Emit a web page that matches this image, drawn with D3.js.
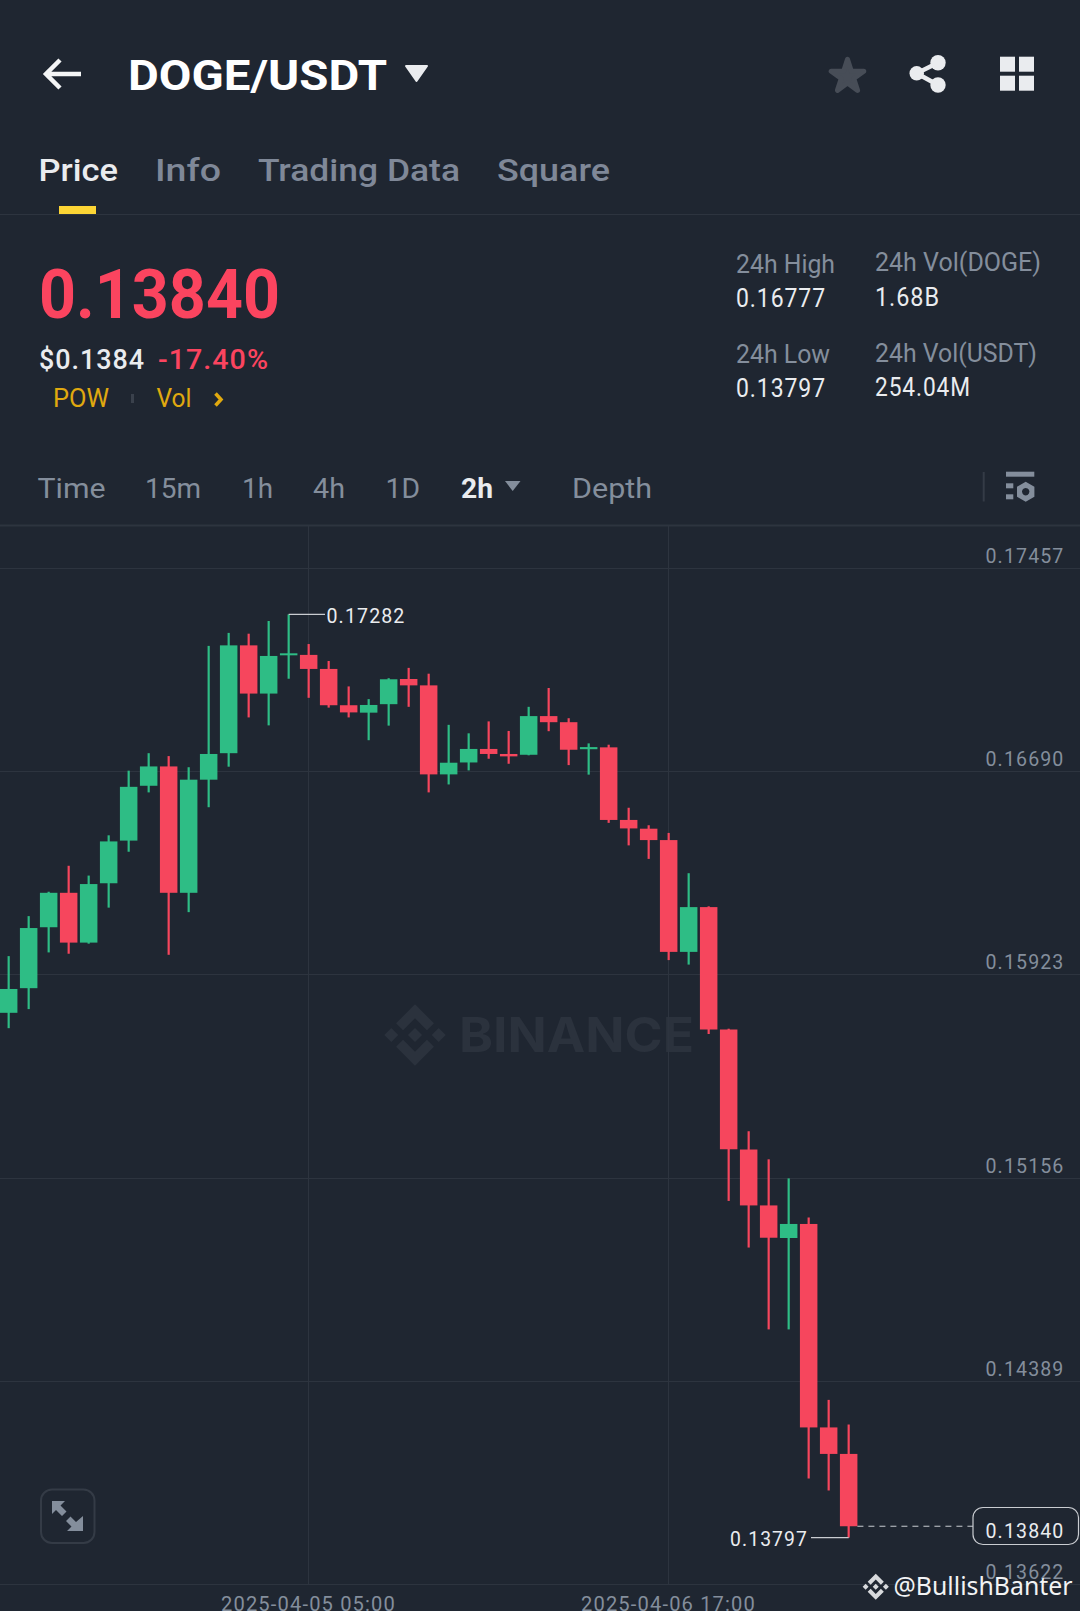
<!DOCTYPE html>
<html>
<head>
<meta charset="utf-8">
<script src="https://cdn.jsdelivr.net/npm/d3@7"></script>
<style>
  html, body { margin: 0; padding: 0; background: #1f2631; overflow: hidden; }
  svg { display: block; }
</style>
</head>
<body>
<div id="chart"></div>
<script>
// 2h candles
const opens = [0.15778, 0.15871, 0.16101, 0.16231, 0.16043, 0.16267, 0.16428, 0.16635, 0.16708, 0.16231,
  0.16658, 0.16758, 0.17165, 0.16983, 0.17130, 0.17129, 0.17076, 0.16939, 0.16911, 0.16943,
  0.17038, 0.17014, 0.16678, 0.16723, 0.16774, 0.16755, 0.16752, 0.16898, 0.16875, 0.16773,
  0.16780, 0.16506, 0.16473, 0.16430, 0.16008, 0.16177, 0.15715, 0.15262, 0.15051, 0.14928,
  0.14981, 0.14213, 0.14113];
const highs = [0.15992, 0.16143, 0.16235, 0.16333, 0.16296, 0.16448, 0.16692, 0.16758, 0.16747, 0.16705,
  0.17163, 0.17212, 0.17209, 0.17257, 0.17282, 0.17170, 0.17106, 0.17010, 0.16962, 0.17041,
  0.17080, 0.17058, 0.16865, 0.16833, 0.16878, 0.16842, 0.16933, 0.17004, 0.16890, 0.16795,
  0.16790, 0.16552, 0.16486, 0.16457, 0.16305, 0.16180, 0.15718, 0.15331, 0.15225, 0.15153,
  0.15005, 0.14317, 0.14224];
const lows = [0.15720, 0.15792, 0.16006, 0.16001, 0.16039, 0.16175, 0.16386, 0.16610, 0.15997, 0.16158,
  0.16554, 0.16707, 0.16893, 0.16863, 0.17039, 0.16967, 0.16930, 0.16893, 0.16807, 0.16862,
  0.16933, 0.16610, 0.16640, 0.16693, 0.16737, 0.16718, 0.16750, 0.16841, 0.16713, 0.16677,
  0.16495, 0.16410, 0.16359, 0.15977, 0.15960, 0.15698, 0.15068, 0.14892, 0.14583, 0.14583,
  0.14020, 0.13975, 0.13797];
const closes = [0.15868, 0.16098, 0.16231, 0.16043, 0.16264, 0.16425, 0.16631, 0.16708, 0.16231, 0.16658,
  0.16755, 0.17165, 0.16983, 0.17125, 0.17135, 0.17076, 0.16939, 0.16912, 0.16940, 0.17037,
  0.17014, 0.16678, 0.16722, 0.16774, 0.16755, 0.16746, 0.16898, 0.16875, 0.16771, 0.16781,
  0.16506, 0.16474, 0.16430, 0.16008, 0.16177, 0.15715, 0.15263, 0.15051, 0.14929, 0.14981,
  0.14213, 0.14113, 0.13840];

const priceTicks = [0.17457, 0.16690, 0.15923, 0.15156, 0.14389, 0.13622];
const timeTickIndex = [15, 33];
const timeTickLabels = ["2025-04-05 05:00", "2025-04-06 17:00"];
const tabs = ["Price", "Info", "Trading Data", "Square"];
const intervals = ["Time", "15m", "1h", "4h", "1D", "2h", "Depth"];

const lastPrice = 0.13840;
const highLabel = 0.17282;
const lowLabel = 0.13797;

const bg = "#1f2631";
const up = "#2ebd85";
const down = "#f6465d";
const muted = "#848e9c";
const gridColor = "#2d343f";
const light = "#eaecef";
const font = "Roboto, 'Noto Sans', sans-serif";

const width = 1080, height = 1611;

const svg = d3.select("#chart").append("svg")
  .attr("width", width)
  .attr("height", height)
  .style("background", bg)
  .style("font-family", font);

const x = d3.scaleLinear().domain([0, 42]).range([8.67, 848.67]);
const y = d3.scaleLinear().domain([0.13622, 0.17457]).range([1584, 568]);

function label(px, py, str, size, fill, weight, w, spacing) {
  const t = svg.append("text")
    .attr("x", px).attr("y", py)
    .attr("font-size", size)
    .attr("fill", fill)
    .attr("font-weight", weight || 400)
    .text(str);
  if (spacing) t.style("letter-spacing", spacing + "px");
  if (w) t.attr("textLength", w).attr("lengthAdjust", "spacingAndGlyphs");
  return t;
}

// binance mark, drawn in a 126 unit box
const logoPath = "M38.73 53.2L63 28.93 87.28 53.21 101.4 39.09 63 .69 24.61 39.08Z" +
  "M.73 63L14.85 48.88 28.97 63 14.85 77.12Z" +
  "M38.73 72.8L63 97.07 87.28 72.79 101.4 86.9 63 125.3 24.61 86.92Z" +
  "M97.03 63L111.15 48.88 125.27 63 111.15 77.12Z" +
  "M77.32 62.99L63 48.67 48.68 62.99 63 77.33Z";
function logo(px, py, size, fill) {
  svg.append("path")
    .attr("d", logoPath)
    .attr("fill", fill)
    .attr("transform", `translate(${px},${py}) scale(${size / 126})`);
}

// --- header ---
svg.append("path")
  .attr("d", "M81 74H47M60 60L46 74L60 88")
  .attr("fill", "none").attr("stroke", "#f4f5f6").attr("stroke-width", 4.5);
label(128, 90, "DOGE/USDT", 42, "#fff", 700, 259);
svg.append("path").attr("d", "M406 66H427L416.5 81Z").attr("fill", light)
  .attr("stroke", light).attr("stroke-linejoin", "round").attr("stroke-width", 2);

svg.append("path")
  .attr("d", d3.symbol(d3.symbolStar, 330))
  .attr("transform", "translate(847.5,76.5)")
  .attr("fill", "#474d57").attr("stroke", "#474d57")
  .attr("stroke-width", 5).attr("stroke-linejoin", "round");

const share = svg.append("g").attr("fill", light);
share.append("path").attr("d", "M938 62.7L916.7 73.3L938 85")
  .attr("fill", "none").attr("stroke", light).attr("stroke-width", 4.5);
[[938, 62.7, 7.7], [916.7, 73.3, 7.2], [938, 85, 7.7]].forEach(p => {
  share.append("circle").attr("cx", p[0]).attr("cy", p[1]).attr("r", p[2]);
});

[[1000, 56.7], [1019, 56.7], [1000, 75.7], [1019, 75.7]].forEach(p => {
  svg.append("rect").attr("x", p[0]).attr("y", p[1]).attr("width", 15).attr("height", 15).attr("fill", light);
});

const tabX = [38.5, 155, 258, 497];
const tabW = [79.5, 66, 202, 113];
tabs.forEach((d, i) => {
  label(tabX[i], 180.5, d, 32, i === 0 ? light : "#7f8898", 500, tabW[i]);
});
svg.append("rect").attr("x", 59).attr("y", 206).attr("width", 37).attr("height", 8).attr("fill", "#fcd535");
svg.append("rect").attr("x", 0).attr("y", 214).attr("width", width).attr("height", 1).attr("fill", gridColor);

// --- price block ---
label(39, 318, "0.13840", 69, "#fb445f", 700, 241);
label(39, 369, "$0.1384", 28.5, light, 500, 106, 1);
label(158, 369, "-17.40%", 28.5, "#fb445f", 500, 111, 1);
label(53, 407.3, "POW", 25, "#e0a90f", 400, 56);
svg.append("rect").attr("x", 131).attr("y", 394).attr("width", 3).attr("height", 9).attr("fill", "#3a414c");
label(156.5, 407.3, "Vol", 25, "#e0a90f", 400, 35);
svg.append("path").attr("d", "M215.5 393.5L221 399.5L215.5 405.5")
  .attr("fill", "none").attr("stroke", "#e0a90f").attr("stroke-width", 3.5);

label(736, 273, "24h High", 25, muted, 400, 99);
label(736, 307, "0.16777", 25, light, 400, 90, 1);
label(875, 271, "24h Vol(DOGE)", 25, muted, 400, 166);
label(875, 306, "1.68B", 25, light, 400, 65, 1);
label(736, 363, "24h Low", 25, muted, 400, 94);
label(736, 397, "0.13797", 25, light, 400, 90, 1);
label(875, 362, "24h Vol(USDT)", 25, muted, 400, 162);
label(875, 396, "254.04M", 25, light, 400, 96, 1);

// --- interval row ---
const intervalX = [37.5, 145, 242, 313, 385.5, 461, 572];
const intervalW = [68, 56, 31, 32, 34.5, 32, 80];
intervals.forEach((d, i) => {
  label(intervalX[i], 498, d, 28, d === "2h" ? light : muted, d === "2h" ? 700 : 400, intervalW[i]);
});
svg.append("path").attr("d", "M505 481H520.5L512.7 491Z").attr("fill", muted);
svg.append("rect").attr("x", 982.7).attr("y", 472).attr("width", 2).attr("height", 29.5).attr("fill", "#343b46");
svg.append("rect").attr("x", 1006).attr("y", 471.7).attr("width", 28.3).attr("height", 5).attr("fill", muted);
svg.append("rect").attr("x", 1006).attr("y", 483.3).attr("width", 7.3).attr("height", 5).attr("fill", muted);
svg.append("rect").attr("x", 1006).attr("y", 494.3).attr("width", 7.3).attr("height", 5).attr("fill", muted);
// nut shaped settings glyph
svg.append("path")
  .attr("d", "M1025.7 481.7L1034.4 486.7V496.7L1025.7 501.7L1017 496.7V486.7Z" +
    "M1025.7 488a3.7 3.7 0 1 0 .01 0Z")
  .attr("fill", muted).attr("fill-rule", "evenodd");
svg.append("rect").attr("x", 0).attr("y", 524.5).attr("width", width).attr("height", 2).attr("fill", gridColor);

// --- watermark under the grid ---
logo(384, 1004, 62, "#2b323d");
label(459, 1052, "BINANCE", 48, "#2b323d", 700, 235)
  .style("font-family", "Inter, Roboto, sans-serif");

// --- axes ---
const yAxis = d3.axisLeft(y)
  .tickValues(priceTicks)
  .tickSize(width)
  .tickFormat(d3.format(".5f"));
const gy = svg.append("g").attr("transform", `translate(${width},0)`).call(yAxis);
gy.select(".domain").remove();
gy.selectAll("line").attr("stroke", gridColor).attr("shape-rendering", "crispEdges");
gy.selectAll("text")
  .attr("x", -94.5).attr("y", -5.5).attr("dy", 0)
  .attr("text-anchor", "start")
  .attr("fill", muted)
  .attr("font-size", 21)
  .attr("font-family", font)
  .style("letter-spacing", "1.2px")
  .attr("textLength", 79).attr("lengthAdjust", "spacingAndGlyphs");

const xAxis = d3.axisBottom(x)
  .tickValues(timeTickIndex)
  .tickSize(-(1584 - 525))
  .tickFormat((d, i) => timeTickLabels[i]);
const gx = svg.append("g").attr("transform", "translate(-0.67,1584)").call(xAxis);
gx.select(".domain").remove();
gx.selectAll("line").attr("stroke", gridColor).attr("shape-rendering", "crispEdges");
gx.selectAll("text")
  .attr("y", 27).attr("dy", 0)
  .attr("fill", muted)
  .attr("font-size", 21)
  .attr("font-family", font)
  .style("letter-spacing", "1.2px")
  .attr("textLength", 175).attr("lengthAdjust", "spacingAndGlyphs");

// --- candles ---
const candles = opens.map((o, i) => ({ i, o, h: highs[i], l: lows[i], c: closes[i] }));
const bodyW = 17.5;

const cg = svg.append("g").selectAll("g")
  .data(candles)
  .join("g")
  .attr("fill", d => d.c >= d.o ? up : down)
  .attr("stroke", d => d.c >= d.o ? up : down);

cg.append("line")
  .attr("x1", d => x(d.i)).attr("x2", d => x(d.i))
  .attr("y1", d => y(d.h)).attr("y2", d => y(d.l))
  .attr("stroke-width", 2.2);

cg.append("rect")
  .attr("x", d => x(d.i) - bodyW / 2)
  .attr("width", bodyW)
  .attr("y", d => y(Math.max(d.o, d.c)))
  .attr("height", d => Math.max(2, Math.abs(y(d.o) - y(d.c))))
  .attr("stroke", "none");

// --- high / low / last price markers ---
svg.append("path")
  .attr("d", `M${x(14)} ${y(highLabel)}H325`)
  .attr("fill", "none").attr("stroke", "#c9ccd1").attr("stroke-width", 1.2);
label(326.5, 622.5, d3.format(".5f")(highLabel), 21, light, 400, 79, 1.2);

svg.append("path")
  .attr("d", `M811 ${y(lowLabel)}H${x(42)}`)
  .attr("fill", "none").attr("stroke", "#c9ccd1").attr("stroke-width", 1.2);
label(730, 1545.5, d3.format(".5f")(lowLabel), 21, light, 400, 78, 1.2);

svg.append("line")
  .attr("x1", x(42) + bodyW / 2).attr("x2", 973)
  .attr("y1", y(lastPrice)).attr("y2", y(lastPrice))
  .attr("stroke", "#c9ccd1").attr("stroke-width", 1)
  .attr("stroke-dasharray", "6 5");
svg.append("rect")
  .attr("x", 973).attr("y", 1507.5).attr("width", 105.5).attr("height", 37).attr("rx", 10)
  .attr("fill", bg).attr("stroke", "#c9ccd1").attr("stroke-width", 1.2);
label(985.5, 1537.5, d3.format(".5f")(lastPrice), 21, light, 400, 79, 1.2);

// --- expand button ---
svg.append("rect")
  .attr("x", 41).attr("y", 1489.5).attr("width", 53.5).attr("height", 53.5).attr("rx", 11)
  .attr("fill", "none").attr("stroke", "#343b46").attr("stroke-width", 2);
svg.append("path")
  .attr("d", "M52 1501H65L60.5 1505.5L66.5 1511.5L62 1516L56 1510L52 1514Z" +
    "M83 1531H67L71.5 1526.5L66 1521L70.5 1516.5L76 1522L83 1516Z")
  .attr("fill", muted);

// --- repost signature ---
logo(862.5, 1573.5, 26.5, "#d8dadd");
label(893.5, 1595, "@BullishBanter", 26, "#f2f3f4", 400, 179)
  .style("font-family", "'Noto Sans', sans-serif");
</script>
</body>
</html>
